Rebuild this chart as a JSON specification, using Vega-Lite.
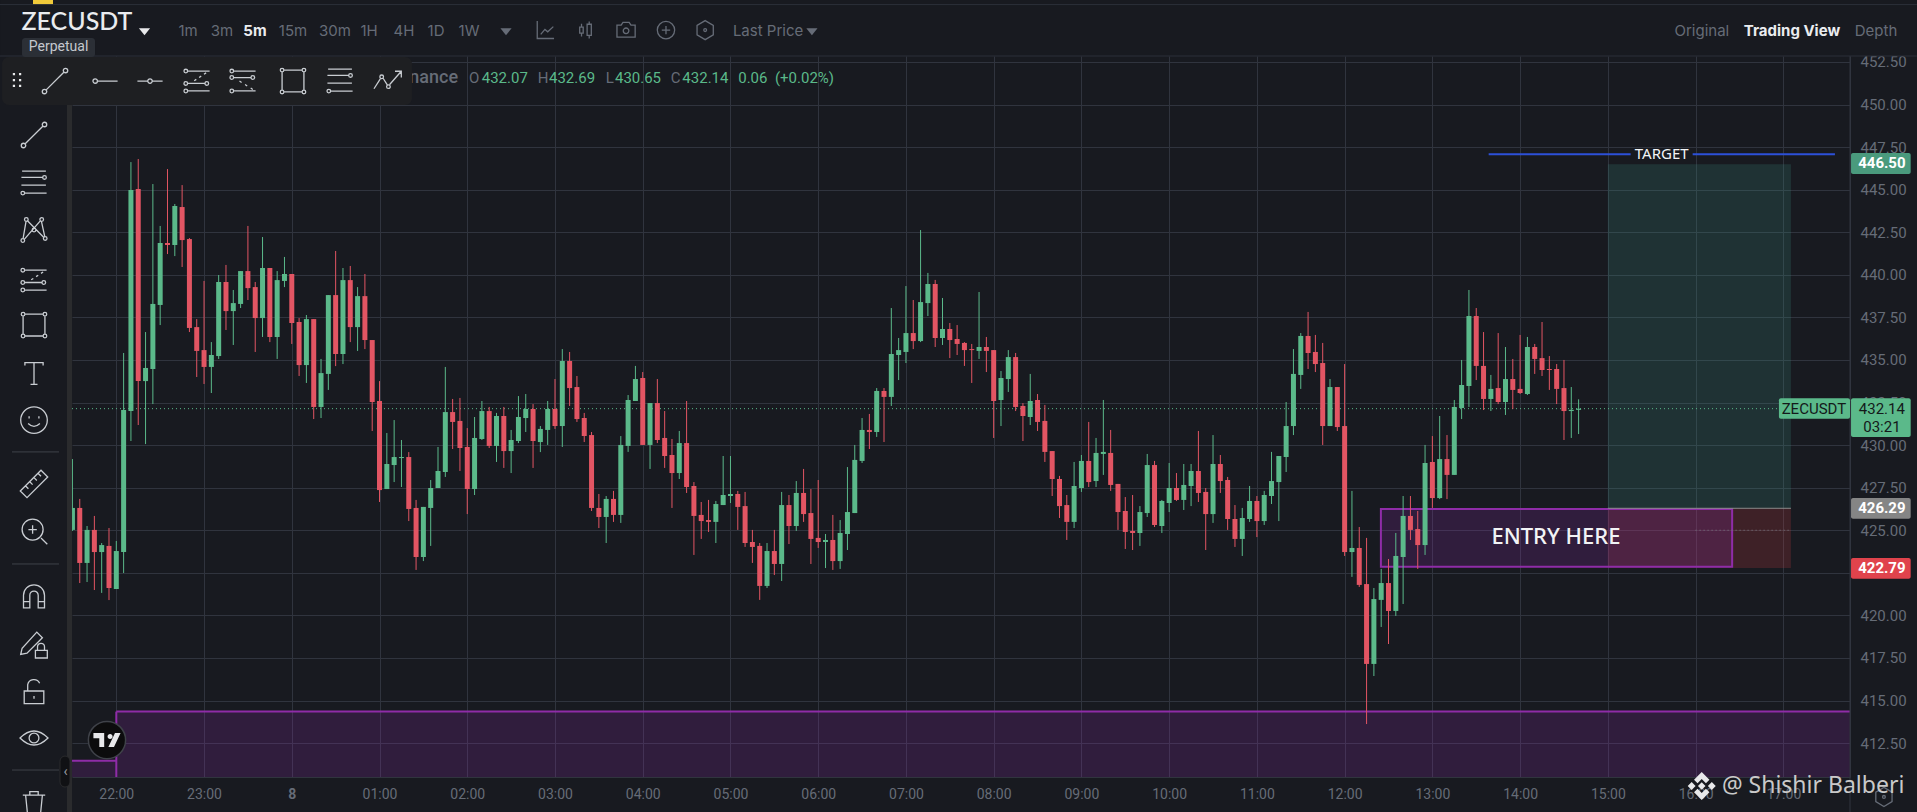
{
  "$schema": "https://vega.github.io/schema/vega-lite/v6.json",
  "description": "ZECUSDT 5m candles with trade drawings on a dark trading screen",
  "background": "#181a20",
  "autosize": {"type": "none"},
  "padding": {"left": 72, "top": 56, "right": 67, "bottom": 35},
  "width": 1778,
  "height": 721,
  "config": {"view": {"stroke": null}, "font": "Roboto"},
  "resolve": {"scale": {"shape": "independent"}},
  "datasets": {
    "candles": [
      {"t":"2025-11-07T21:30","o":425.02,"h":429.18,"l":424.96,"c":426.31},
      {"t":"2025-11-07T21:35","o":426.31,"h":426.84,"l":421.90,"c":423.08},
      {"t":"2025-11-07T21:40","o":423.08,"h":425.25,"l":421.96,"c":425.02},
      {"t":"2025-11-07T21:45","o":425.02,"h":425.84,"l":421.49,"c":423.72},
      {"t":"2025-11-07T21:50","o":423.72,"h":424.25,"l":421.32,"c":424.13},
      {"t":"2025-11-07T21:55","o":424.08,"h":425.13,"l":420.90,"c":421.61},
      {"t":"2025-11-07T22:00","o":421.55,"h":424.37,"l":421.55,"c":423.78},
      {"t":"2025-11-07T22:05","o":423.72,"h":435.41,"l":422.49,"c":432.06},
      {"t":"2025-11-07T22:10","o":432.00,"h":446.62,"l":430.24,"c":444.98},
      {"t":"2025-11-07T22:15","o":445.04,"h":446.80,"l":431.18,"c":433.76},
      {"t":"2025-11-07T22:20","o":433.76,"h":436.64,"l":430.06,"c":434.53},
      {"t":"2025-11-07T22:25","o":434.47,"h":445.33,"l":432.41,"c":438.29},
      {"t":"2025-11-07T22:30","o":438.23,"h":442.87,"l":437.05,"c":441.87},
      {"t":"2025-11-07T22:35","o":441.87,"h":446.21,"l":441.22,"c":441.75},
      {"t":"2025-11-07T22:40","o":441.75,"h":444.16,"l":441.10,"c":444.04},
      {"t":"2025-11-07T22:45","o":443.98,"h":445.27,"l":440.46,"c":442.04},
      {"t":"2025-11-07T22:50","o":442.10,"h":442.16,"l":436.64,"c":436.88},
      {"t":"2025-11-07T22:55","o":436.93,"h":437.40,"l":434.00,"c":435.53},
      {"t":"2025-11-07T23:00","o":435.58,"h":439.64,"l":433.59,"c":434.59},
      {"t":"2025-11-07T23:05","o":434.59,"h":436.05,"l":433.06,"c":435.29},
      {"t":"2025-11-07T23:10","o":435.23,"h":439.99,"l":435.06,"c":439.58},
      {"t":"2025-11-07T23:15","o":439.58,"h":440.58,"l":436.76,"c":437.87},
      {"t":"2025-11-07T23:20","o":437.87,"h":439.11,"l":435.88,"c":438.34},
      {"t":"2025-11-07T23:25","o":438.29,"h":440.22,"l":438.05,"c":440.22},
      {"t":"2025-11-07T23:30","o":440.22,"h":442.87,"l":438.52,"c":439.22},
      {"t":"2025-11-07T23:35","o":439.28,"h":439.58,"l":435.47,"c":437.46},
      {"t":"2025-11-07T23:40","o":437.46,"h":442.22,"l":436.35,"c":440.40},
      {"t":"2025-11-07T23:45","o":440.40,"h":440.40,"l":436.05,"c":436.35},
      {"t":"2025-11-07T23:50","o":436.35,"h":440.22,"l":435.06,"c":439.69},
      {"t":"2025-11-07T23:55","o":439.64,"h":441.05,"l":439.28,"c":440.05},
      {"t":"2025-11-08T00:00","o":440.05,"h":440.05,"l":435.94,"c":437.17},
      {"t":"2025-11-08T00:05","o":437.23,"h":437.46,"l":434.06,"c":434.70},
      {"t":"2025-11-08T00:10","o":434.70,"h":437.64,"l":433.65,"c":437.40},
      {"t":"2025-11-08T00:15","o":437.40,"h":437.40,"l":431.53,"c":432.24},
      {"t":"2025-11-08T00:20","o":432.24,"h":435.06,"l":431.59,"c":434.23},
      {"t":"2025-11-08T00:25","o":434.18,"h":438.81,"l":433.24,"c":438.81},
      {"t":"2025-11-08T00:30","o":438.81,"h":441.40,"l":434.64,"c":435.35},
      {"t":"2025-11-08T00:35","o":435.35,"h":440.40,"l":434.76,"c":439.69},
      {"t":"2025-11-08T00:40","o":439.69,"h":440.52,"l":436.05,"c":436.93},
      {"t":"2025-11-08T00:45","o":436.93,"h":439.28,"l":435.53,"c":438.75},
      {"t":"2025-11-08T00:50","o":438.75,"h":440.05,"l":435.64,"c":436.17},
      {"t":"2025-11-08T00:55","o":436.17,"h":436.17,"l":430.83,"c":432.53},
      {"t":"2025-11-08T01:00","o":432.59,"h":433.76,"l":426.66,"c":427.36},
      {"t":"2025-11-08T01:05","o":427.42,"h":430.71,"l":427.42,"c":428.89},
      {"t":"2025-11-08T01:10","o":428.83,"h":431.47,"l":427.83,"c":429.30},
      {"t":"2025-11-08T01:15","o":429.24,"h":430.30,"l":427.54,"c":429.30},
      {"t":"2025-11-08T01:20","o":429.30,"h":429.59,"l":425.54,"c":426.25},
      {"t":"2025-11-08T01:25","o":426.31,"h":426.78,"l":422.67,"c":423.43},
      {"t":"2025-11-08T01:30","o":423.43,"h":426.37,"l":423.19,"c":426.37},
      {"t":"2025-11-08T01:35","o":426.31,"h":427.95,"l":424.08,"c":427.48},
      {"t":"2025-11-08T01:40","o":427.48,"h":429.89,"l":427.48,"c":428.48},
      {"t":"2025-11-08T01:45","o":428.42,"h":434.59,"l":428.13,"c":431.94},
      {"t":"2025-11-08T01:50","o":431.94,"h":432.71,"l":429.77,"c":431.36},
      {"t":"2025-11-08T01:55","o":431.42,"h":432.77,"l":428.48,"c":429.83},
      {"t":"2025-11-08T02:00","o":429.89,"h":431.00,"l":425.95,"c":427.42},
      {"t":"2025-11-08T02:05","o":427.42,"h":431.65,"l":427.07,"c":430.42},
      {"t":"2025-11-08T02:10","o":430.36,"h":432.59,"l":430.30,"c":432.00},
      {"t":"2025-11-08T02:15","o":432.00,"h":432.24,"l":429.83,"c":429.95},
      {"t":"2025-11-08T02:20","o":429.95,"h":431.89,"l":429.01,"c":431.71},
      {"t":"2025-11-08T02:25","o":431.71,"h":432.24,"l":428.66,"c":429.65},
      {"t":"2025-11-08T02:30","o":429.65,"h":430.89,"l":428.36,"c":430.30},
      {"t":"2025-11-08T02:35","o":430.24,"h":432.88,"l":430.12,"c":431.65},
      {"t":"2025-11-08T02:40","o":431.59,"h":433.00,"l":430.77,"c":432.12},
      {"t":"2025-11-08T02:45","o":432.12,"h":432.41,"l":428.66,"c":430.24},
      {"t":"2025-11-08T02:50","o":430.18,"h":431.12,"l":429.59,"c":430.95},
      {"t":"2025-11-08T02:55","o":430.89,"h":432.59,"l":430.01,"c":432.12},
      {"t":"2025-11-08T03:00","o":432.12,"h":433.88,"l":430.95,"c":431.12},
      {"t":"2025-11-08T03:05","o":431.12,"h":435.64,"l":429.89,"c":434.94},
      {"t":"2025-11-08T03:10","o":434.94,"h":435.47,"l":432.30,"c":433.35},
      {"t":"2025-11-08T03:15","o":433.41,"h":434.06,"l":431.36,"c":431.53},
      {"t":"2025-11-08T03:20","o":431.59,"h":431.89,"l":430.18,"c":430.53},
      {"t":"2025-11-08T03:25","o":430.59,"h":430.77,"l":426.13,"c":426.31},
      {"t":"2025-11-08T03:30","o":426.31,"h":427.13,"l":425.13,"c":425.78},
      {"t":"2025-11-08T03:35","o":425.78,"h":427.01,"l":424.25,"c":426.84},
      {"t":"2025-11-08T03:40","o":426.84,"h":427.31,"l":425.49,"c":425.90},
      {"t":"2025-11-08T03:45","o":425.90,"h":430.53,"l":425.43,"c":430.01},
      {"t":"2025-11-08T03:50","o":429.95,"h":432.94,"l":429.60,"c":432.65},
      {"t":"2025-11-08T03:55","o":432.59,"h":434.65,"l":432.59,"c":433.88},
      {"t":"2025-11-08T04:00","o":433.94,"h":434.29,"l":430.01,"c":430.01},
      {"t":"2025-11-08T04:05","o":430.01,"h":432.47,"l":428.60,"c":432.47},
      {"t":"2025-11-08T04:10","o":432.47,"h":433.88,"l":430.12,"c":430.30},
      {"t":"2025-11-08T04:15","o":430.42,"h":432.00,"l":428.66,"c":429.36},
      {"t":"2025-11-08T04:20","o":429.42,"h":430.36,"l":426.31,"c":428.36},
      {"t":"2025-11-08T04:25","o":428.36,"h":430.83,"l":428.01,"c":430.12},
      {"t":"2025-11-08T04:30","o":430.12,"h":432.59,"l":427.19,"c":427.54},
      {"t":"2025-11-08T04:35","o":427.60,"h":427.83,"l":423.55,"c":425.84},
      {"t":"2025-11-08T04:40","o":425.90,"h":426.66,"l":424.49,"c":425.54},
      {"t":"2025-11-08T04:45","o":425.60,"h":426.78,"l":424.90,"c":425.49},
      {"t":"2025-11-08T04:50","o":425.49,"h":426.72,"l":424.25,"c":426.54},
      {"t":"2025-11-08T04:55","o":426.48,"h":429.36,"l":426.48,"c":427.07},
      {"t":"2025-11-08T05:00","o":427.01,"h":429.36,"l":426.60,"c":427.13},
      {"t":"2025-11-08T05:05","o":427.13,"h":427.31,"l":425.02,"c":426.37},
      {"t":"2025-11-08T05:10","o":426.42,"h":427.25,"l":424.02,"c":424.25},
      {"t":"2025-11-08T05:15","o":424.31,"h":425.02,"l":423.08,"c":424.02},
      {"t":"2025-11-08T05:20","o":424.08,"h":424.25,"l":420.91,"c":421.73},
      {"t":"2025-11-08T05:25","o":421.73,"h":424.25,"l":421.61,"c":423.78},
      {"t":"2025-11-08T05:30","o":423.78,"h":425.02,"l":422.37,"c":423.02},
      {"t":"2025-11-08T05:35","o":423.02,"h":427.25,"l":422.02,"c":426.48},
      {"t":"2025-11-08T05:40","o":426.48,"h":427.07,"l":424.19,"c":425.25},
      {"t":"2025-11-08T05:45","o":425.25,"h":427.89,"l":424.96,"c":427.19},
      {"t":"2025-11-08T05:50","o":427.19,"h":428.60,"l":425.49,"c":425.95},
      {"t":"2025-11-08T05:55","o":426.01,"h":427.42,"l":423.02,"c":424.49},
      {"t":"2025-11-08T06:00","o":424.55,"h":427.95,"l":423.96,"c":424.31},
      {"t":"2025-11-08T06:05","o":424.31,"h":424.78,"l":422.78,"c":424.43},
      {"t":"2025-11-08T06:10","o":424.43,"h":425.90,"l":422.67,"c":423.19},
      {"t":"2025-11-08T06:15","o":423.19,"h":425.60,"l":422.73,"c":424.84},
      {"t":"2025-11-08T06:20","o":424.78,"h":428.71,"l":423.84,"c":426.07},
      {"t":"2025-11-08T06:25","o":426.01,"h":430.01,"l":426.01,"c":429.13},
      {"t":"2025-11-08T06:30","o":429.07,"h":431.59,"l":428.95,"c":430.89},
      {"t":"2025-11-08T06:35","o":430.89,"h":431.83,"l":429.77,"c":430.77},
      {"t":"2025-11-08T06:40","o":430.77,"h":433.35,"l":430.48,"c":433.18},
      {"t":"2025-11-08T06:45","o":433.18,"h":433.35,"l":430.18,"c":432.83},
      {"t":"2025-11-08T06:50","o":432.83,"h":438.05,"l":432.30,"c":435.35},
      {"t":"2025-11-08T06:55","o":435.29,"h":436.29,"l":433.82,"c":435.58},
      {"t":"2025-11-08T07:00","o":435.47,"h":439.34,"l":434.82,"c":436.58},
      {"t":"2025-11-08T07:05","o":436.58,"h":438.52,"l":435.64,"c":436.11},
      {"t":"2025-11-08T07:10","o":436.11,"h":442.63,"l":436.05,"c":438.40},
      {"t":"2025-11-08T07:15","o":438.34,"h":440.11,"l":437.58,"c":439.46},
      {"t":"2025-11-08T07:20","o":439.46,"h":439.70,"l":435.76,"c":436.29},
      {"t":"2025-11-08T07:25","o":436.29,"h":438.64,"l":435.88,"c":436.82},
      {"t":"2025-11-08T07:30","o":436.82,"h":437.17,"l":435.11,"c":436.17},
      {"t":"2025-11-08T07:35","o":436.23,"h":437.05,"l":435.29,"c":435.94},
      {"t":"2025-11-08T07:40","o":436.00,"h":436.05,"l":434.65,"c":435.58},
      {"t":"2025-11-08T07:45","o":435.64,"h":435.94,"l":433.65,"c":435.58},
      {"t":"2025-11-08T07:50","o":435.53,"h":438.99,"l":435.06,"c":435.76},
      {"t":"2025-11-08T07:55","o":435.76,"h":436.35,"l":434.29,"c":435.53},
      {"t":"2025-11-08T08:00","o":435.58,"h":435.58,"l":430.42,"c":432.59},
      {"t":"2025-11-08T08:05","o":432.65,"h":434.35,"l":431.12,"c":433.94},
      {"t":"2025-11-08T08:10","o":433.88,"h":435.58,"l":433.12,"c":435.17},
      {"t":"2025-11-08T08:15","o":435.17,"h":435.41,"l":432.00,"c":432.24},
      {"t":"2025-11-08T08:20","o":432.30,"h":432.47,"l":430.24,"c":431.71},
      {"t":"2025-11-08T08:25","o":431.65,"h":434.18,"l":431.18,"c":432.59},
      {"t":"2025-11-08T08:30","o":432.65,"h":433.00,"l":430.83,"c":431.36},
      {"t":"2025-11-08T08:35","o":431.42,"h":432.36,"l":429.01,"c":429.60},
      {"t":"2025-11-08T08:40","o":429.65,"h":429.65,"l":427.01,"c":428.01},
      {"t":"2025-11-08T08:45","o":428.01,"h":428.19,"l":425.72,"c":426.42},
      {"t":"2025-11-08T08:50","o":426.48,"h":427.07,"l":424.43,"c":425.49},
      {"t":"2025-11-08T08:55","o":425.49,"h":429.01,"l":425.13,"c":427.60},
      {"t":"2025-11-08T09:00","o":427.48,"h":429.42,"l":427.25,"c":429.07},
      {"t":"2025-11-08T09:05","o":429.07,"h":431.36,"l":427.54,"c":427.83},
      {"t":"2025-11-08T09:10","o":427.89,"h":430.42,"l":427.54,"c":429.54},
      {"t":"2025-11-08T09:15","o":429.48,"h":432.65,"l":428.25,"c":429.60},
      {"t":"2025-11-08T09:20","o":429.54,"h":430.89,"l":427.31,"c":427.66},
      {"t":"2025-11-08T09:25","o":427.72,"h":427.72,"l":425.02,"c":426.07},
      {"t":"2025-11-08T09:30","o":426.13,"h":426.95,"l":423.90,"c":424.90},
      {"t":"2025-11-08T09:35","o":424.96,"h":427.07,"l":423.84,"c":424.84},
      {"t":"2025-11-08T09:40","o":424.84,"h":426.42,"l":424.08,"c":426.07},
      {"t":"2025-11-08T09:45","o":426.01,"h":429.48,"l":425.78,"c":428.83},
      {"t":"2025-11-08T09:50","o":428.83,"h":429.07,"l":425.19,"c":425.31},
      {"t":"2025-11-08T09:55","o":425.25,"h":426.78,"l":424.84,"c":426.72},
      {"t":"2025-11-08T10:00","o":426.60,"h":428.95,"l":426.07,"c":427.48},
      {"t":"2025-11-08T10:05","o":427.48,"h":428.36,"l":426.72,"c":426.78},
      {"t":"2025-11-08T10:10","o":426.78,"h":428.89,"l":426.19,"c":427.66},
      {"t":"2025-11-08T10:15","o":427.60,"h":428.89,"l":426.42,"c":428.48},
      {"t":"2025-11-08T10:20","o":428.48,"h":430.83,"l":426.66,"c":427.19},
      {"t":"2025-11-08T10:25","o":427.25,"h":427.48,"l":423.84,"c":425.95},
      {"t":"2025-11-08T10:30","o":425.95,"h":430.59,"l":425.43,"c":428.89},
      {"t":"2025-11-08T10:35","o":428.89,"h":429.42,"l":427.19,"c":427.89},
      {"t":"2025-11-08T10:40","o":427.95,"h":428.13,"l":425.02,"c":425.66},
      {"t":"2025-11-08T10:45","o":425.66,"h":426.48,"l":424.02,"c":424.49},
      {"t":"2025-11-08T10:50","o":424.49,"h":426.31,"l":423.49,"c":425.72},
      {"t":"2025-11-08T10:55","o":425.66,"h":427.60,"l":425.49,"c":426.72},
      {"t":"2025-11-08T11:00","o":426.72,"h":427.01,"l":424.60,"c":425.54},
      {"t":"2025-11-08T11:05","o":425.54,"h":427.31,"l":425.31,"c":427.07},
      {"t":"2025-11-08T11:10","o":427.01,"h":429.60,"l":426.54,"c":427.89},
      {"t":"2025-11-08T11:15","o":427.83,"h":429.36,"l":425.54,"c":429.36},
      {"t":"2025-11-08T11:20","o":429.30,"h":432.53,"l":428.42,"c":431.12},
      {"t":"2025-11-08T11:25","o":431.12,"h":435.64,"l":430.59,"c":434.18},
      {"t":"2025-11-08T11:30","o":434.12,"h":436.58,"l":433.30,"c":436.41},
      {"t":"2025-11-08T11:35","o":436.41,"h":437.82,"l":434.47,"c":435.41},
      {"t":"2025-11-08T11:40","o":435.47,"h":436.47,"l":434.29,"c":434.76},
      {"t":"2025-11-08T11:45","o":434.82,"h":436.00,"l":430.01,"c":431.12},
      {"t":"2025-11-08T11:50","o":431.12,"h":433.88,"l":431.12,"c":433.41},
      {"t":"2025-11-08T11:55","o":433.41,"h":433.41,"l":430.83,"c":431.06},
      {"t":"2025-11-08T12:00","o":431.12,"h":434.76,"l":423.49,"c":423.72},
      {"t":"2025-11-08T12:05","o":423.72,"h":427.31,"l":422.26,"c":423.96},
      {"t":"2025-11-08T12:10","o":423.96,"h":425.19,"l":421.67,"c":421.79},
      {"t":"2025-11-08T12:15","o":421.84,"h":424.55,"l":413.62,"c":417.15},
      {"t":"2025-11-08T12:20","o":417.15,"h":421.61,"l":416.44,"c":420.96},
      {"t":"2025-11-08T12:25","o":420.91,"h":422.73,"l":419.32,"c":421.90},
      {"t":"2025-11-08T12:30","o":421.90,"h":423.31,"l":418.32,"c":420.26},
      {"t":"2025-11-08T12:35","o":420.26,"h":424.84,"l":419.97,"c":423.49},
      {"t":"2025-11-08T12:40","o":423.43,"h":427.01,"l":420.67,"c":425.84},
      {"t":"2025-11-08T12:45","o":425.84,"h":427.01,"l":424.43,"c":425.02},
      {"t":"2025-11-08T12:50","o":425.07,"h":426.13,"l":422.73,"c":424.13},
      {"t":"2025-11-08T12:55","o":424.13,"h":430.01,"l":423.55,"c":428.95},
      {"t":"2025-11-08T13:00","o":429.01,"h":430.53,"l":426.31,"c":426.89},
      {"t":"2025-11-08T13:05","o":426.89,"h":431.71,"l":426.83,"c":429.18},
      {"t":"2025-11-08T13:10","o":429.18,"h":430.59,"l":426.83,"c":428.25},
      {"t":"2025-11-08T13:15","o":428.25,"h":432.65,"l":428.25,"c":432.24},
      {"t":"2025-11-08T13:20","o":432.18,"h":435.00,"l":431.53,"c":433.53},
      {"t":"2025-11-08T13:25","o":433.47,"h":439.11,"l":432.24,"c":437.58},
      {"t":"2025-11-08T13:30","o":437.58,"h":438.05,"l":433.82,"c":434.65},
      {"t":"2025-11-08T13:35","o":434.65,"h":436.64,"l":432.06,"c":432.71},
      {"t":"2025-11-08T13:40","o":432.71,"h":434.12,"l":432.00,"c":433.30},
      {"t":"2025-11-08T13:45","o":433.35,"h":436.58,"l":432.41,"c":432.53},
      {"t":"2025-11-08T13:50","o":432.53,"h":435.76,"l":431.77,"c":433.88},
      {"t":"2025-11-08T13:55","o":433.88,"h":435.06,"l":432.12,"c":433.24},
      {"t":"2025-11-08T14:00","o":433.30,"h":436.47,"l":433.00,"c":433.06},
      {"t":"2025-11-08T14:05","o":433.00,"h":436.35,"l":432.94,"c":435.76},
      {"t":"2025-11-08T14:10","o":435.76,"h":435.94,"l":434.18,"c":435.06},
      {"t":"2025-11-08T14:15","o":435.11,"h":437.23,"l":434.06,"c":434.41},
      {"t":"2025-11-08T14:20","o":434.47,"h":435.23,"l":433.24,"c":434.41},
      {"t":"2025-11-08T14:25","o":434.47,"h":434.76,"l":432.41,"c":433.30},
      {"t":"2025-11-08T14:30","o":433.35,"h":435.00,"l":430.30,"c":432.00},
      {"t":"2025-11-08T14:35","o":432.00,"h":433.41,"l":430.42,"c":432.07},
      {"t":"2025-11-08T14:40","o":432.07,"h":432.69,"l":430.65,"c":432.14}
    ],
    "icons": [
      {"t":"2025-11-08T02:53:36","p":454.37,"icon":"chart"},
      {"t":"2025-11-08T03:21:12","p":454.37,"icon":"candle"},
      {"t":"2025-11-08T03:48:36","p":454.37,"icon":"camera"},
      {"t":"2025-11-08T04:15:54","p":454.37,"icon":"plus"},
      {"t":"2025-11-08T04:42:42","p":454.37,"icon":"hex"},
      {"t":"2025-11-07T21:18:05","p":451.38,"icon":"trend"},
      {"t":"2025-11-07T21:52:16","p":451.38,"icon":"ray"},
      {"t":"2025-11-07T22:23:03","p":451.38,"icon":"hline"},
      {"t":"2025-11-07T22:55:11","p":451.38,"icon":"fib1"},
      {"t":"2025-11-07T23:26:38","p":451.38,"icon":"fib2"},
      {"t":"2025-11-08T00:00:50","p":451.38,"icon":"box"},
      {"t":"2025-11-08T00:32:59","p":451.38,"icon":"lines"},
      {"t":"2025-11-08T01:05:48","p":451.38,"icon":"path"},
      {"t":"2025-11-07T21:03:43","p":448.21,"icon":"trend"},
      {"t":"2025-11-07T21:03:43","p":445.39,"icon":"lines"},
      {"t":"2025-11-07T21:03:43","p":442.63,"icon":"xabcd"},
      {"t":"2025-11-07T21:03:43","p":439.69,"icon":"fib1"},
      {"t":"2025-11-07T21:03:43","p":437.05,"icon":"box"},
      {"t":"2025-11-07T21:03:43","p":434.23,"icon":"tee"},
      {"t":"2025-11-07T21:03:43","p":431.47,"icon":"smile"},
      {"t":"2025-11-07T21:03:43","p":427.72,"icon":"ruler"},
      {"t":"2025-11-07T21:03:43","p":424.96,"icon":"glass"},
      {"t":"2025-11-07T21:03:43","p":421.14,"icon":"magnet"},
      {"t":"2025-11-07T21:03:43","p":418.32,"icon":"pencil"},
      {"t":"2025-11-07T21:03:43","p":415.56,"icon":"lock"},
      {"t":"2025-11-07T21:03:43","p":412.80,"icon":"eye"},
      {"t":"2025-11-07T21:03:43","p":409.04,"icon":"trash"},
      {"t":"2025-11-08T18:08:48","p":409.34,"icon":"hex"}
    ],
    "solidIcons": [
      {"t":"2025-11-07T22:19:17","p":454.32,"icon":"caret"},
      {"t":"2025-11-08T02:26:30","p":454.32,"icon":"caretDim"},
      {"t":"2025-11-08T05:55:42","p":454.32,"icon":"caretDim"},
      {"t":"2025-11-07T20:52:06","p":451.44,"icon":"grip"},
      {"t":"2025-11-07T21:53:38","p":412.68,"icon":"logo"},
      {"t":"2025-11-08T16:04:12","p":409.98,"icon":"binance"}
    ],
    "menu": [
      {"t":"2025-11-07T22:49:02","p":454.32,"label":"1m"},
      {"t":"2025-11-07T23:12:17","p":454.32,"label":"3m"},
      {"t":"2025-11-08T00:00:50","p":454.32,"label":"15m"},
      {"t":"2025-11-08T00:29:34","p":454.32,"label":"30m"},
      {"t":"2025-11-08T00:52:50","p":454.32,"label":"1H"},
      {"t":"2025-11-08T01:16:45","p":454.32,"label":"4H"},
      {"t":"2025-11-08T01:38:38","p":454.32,"label":"1D"},
      {"t":"2025-11-08T02:01:12","p":454.32,"label":"1W"},
      {"t":"2025-11-08T05:25:42","p":454.32,"label":"Last Price"},
      {"t":"2025-11-08T16:04:18","p":454.32,"label":"Original"},
      {"t":"2025-11-08T18:03:24","p":454.32,"label":"Depth"}
    ],
    "menuActive": [
      {"t":"2025-11-07T23:34:51","p":454.32,"label":"5m"},
      {"t":"2025-11-08T17:05:54","p":454.32,"label":"Trading View"}
    ],
    "legendGrey": [
      {"t":"2025-11-08T02:01:12","p":451.56,"label":"O"},
      {"t":"2025-11-08T02:48:12","p":451.56,"label":"H"},
      {"t":"2025-11-08T03:34:42","p":451.56,"label":"L"},
      {"t":"2025-11-08T04:19:06","p":451.56,"label":"C"}
    ],
    "legendGreen": [
      {"t":"2025-11-08T02:09:54","p":451.56,"label":"432.07"},
      {"t":"2025-11-08T02:55:54","p":451.56,"label":"432.69"},
      {"t":"2025-11-08T03:41:00","p":451.56,"label":"430.65"},
      {"t":"2025-11-08T04:27:06","p":451.56,"label":"432.14"},
      {"t":"2025-11-08T05:05:18","p":451.56,"label":"0.06"},
      {"t":"2025-11-08T05:30:24","p":451.56,"label":"(+0.02%)"}
    ],
    "priceTags": [
      {"t":"2025-11-08T17:46:18","t2":"2025-11-08T18:27:06","p":447.15,"p2":445.92,"kind":"target"},
      {"t":"2025-11-08T17:46:18","t2":"2025-11-08T18:27:06","p":432.75,"p2":430.48,"kind":"last"},
      {"t":"2025-11-08T16:57:00","t2":"2025-11-08T17:45:36","p":432.75,"p2":431.55,"kind":"last"},
      {"t":"2025-11-08T17:46:18","t2":"2025-11-08T18:27:06","p":426.89,"p2":425.68,"kind":"entry"},
      {"t":"2025-11-08T17:46:18","t2":"2025-11-08T18:27:06","p":423.37,"p2":422.15,"kind":"stop"}
    ],
    "priceTagText": [
      {"t":"2025-11-08T18:07:24","p":446.54,"label":"446.50"},
      {"t":"2025-11-08T18:07:24","p":426.29,"label":"426.29"},
      {"t":"2025-11-08T18:07:24","p":422.79,"label":"422.79"}
    ],
    "lastText": [
      {"t":"2025-11-08T18:07:24","p":432.12,"label":"432.14"},
      {"t":"2025-11-08T18:07:24","p":431.06,"label":"03:21"},
      {"t":"2025-11-08T17:20:54","p":432.14,"label":"ZECUSDT"}
    ]
  },
  "encoding": {
    "x": {
      "field": "t",
      "type": "temporal",
      "title": null,
      "scale": {
        "domain": [
          {"year": 2025, "month": 11, "date": 7, "hours": 21, "minutes": 29, "seconds": 42},
          {"year": 2025, "month": 11, "date": 8, "hours": 17, "minutes": 45, "seconds": 36}
        ],
        "nice": false,
        "padding": 0
      },
      "axis": {
        "orient": "bottom",
        "values": [
          {"year": 2025, "month": 11, "date": 7, "hours": 22},
          {"year": 2025, "month": 11, "date": 7, "hours": 23},
          {"year": 2025, "month": 11, "date": 8, "hours": 0},
          {"year": 2025, "month": 11, "date": 8, "hours": 1},
          {"year": 2025, "month": 11, "date": 8, "hours": 2},
          {"year": 2025, "month": 11, "date": 8, "hours": 3},
          {"year": 2025, "month": 11, "date": 8, "hours": 4},
          {"year": 2025, "month": 11, "date": 8, "hours": 5},
          {"year": 2025, "month": 11, "date": 8, "hours": 6},
          {"year": 2025, "month": 11, "date": 8, "hours": 7},
          {"year": 2025, "month": 11, "date": 8, "hours": 8},
          {"year": 2025, "month": 11, "date": 8, "hours": 9},
          {"year": 2025, "month": 11, "date": 8, "hours": 10},
          {"year": 2025, "month": 11, "date": 8, "hours": 11},
          {"year": 2025, "month": 11, "date": 8, "hours": 12},
          {"year": 2025, "month": 11, "date": 8, "hours": 13},
          {"year": 2025, "month": 11, "date": 8, "hours": 14},
          {"year": 2025, "month": 11, "date": 8, "hours": 15},
          {"year": 2025, "month": 11, "date": 8, "hours": 16},
          {"year": 2025, "month": 11, "date": 8, "hours": 17}
        ],
        "labelExpr": "hours(datum.value) == 0 ? '8' : timeFormat(datum.value, '%H:%M')",
        "labelFontWeight": {"condition": {"test": "hours(datum.value) == 0", "value": "bold"}, "value": "normal"},
        "labelOverlap": false,
        "labelFlush": false,
        "labelColor": "#666c77",
        "labelFontSize": 14,
        "labelPadding": 10,
        "ticks": false,
        "grid": true,
        "gridColor": "#30343e",
        "gridWidth": 1,
        "domainColor": "#30343e"
      }
    },
    "y": {
      "field": "p",
      "type": "quantitative",
      "title": null,
      "scale": {"domain": [410.51, 452.85], "nice": false, "zero": false},
      "axis": {
        "orient": "right",
        "values": [412.5, 415, 417.5, 420, 422.5, 425, 427.5, 430, 432.5, 435, 437.5, 440, 442.5, 445, 447.5, 450, 452.5],
        "format": ".2f",
        "labelColor": "#666c77",
        "labelFontSize": 15,
        "labelPadding": 10,
        "labelOverlap": false,
        "labelFlush": false,
        "ticks": false,
        "grid": true,
        "gridColor": "#30343e",
        "gridWidth": 1,
        "domainColor": "#30343e"
      }
    }
  },
  "layer": [
    {
      "data": {"values": [
        {"t":"2025-11-07T21:29:42","t2":"2025-11-07T22:00","p":411.46,"p2":410.51},
        {"t":"2025-11-07T22:00","t2":"2025-11-08T17:45:36","p":414.35,"p2":410.51}
      ], "format": {"parse": {"t2": "date"}}},
      "mark": {"type": "rect", "fill": "#902eb6", "fillOpacity": 0.2},
      "encoding": {"x2": {"field": "t2"}, "y2": {"field": "p2"}}
    },
    {
      "data": {"values": [
        {"t":"2025-11-07T21:29:42","t2":"2025-11-07T22:00","p":411.46},
        {"t":"2025-11-07T22:00","t2":"2025-11-08T17:45:36","p":414.35}
      ], "format": {"parse": {"t2": "date"}}},
      "mark": {"type": "rule", "color": "#8f2ca8", "strokeWidth": 2},
      "encoding": {"x2": {"field": "t2"}}
    },
    {
      "data": {"values": [{"t":"2025-11-07T22:00","p":414.35,"p2":410.51}]},
      "mark": {"type": "rule", "color": "#8f2ca8", "strokeWidth": 2},
      "encoding": {"y2": {"field": "p2"}}
    },
    {
      "data": {"values": [
        {"t":"2025-11-08T15:00","t2":"2025-11-08T17:05:12","p":446.5,"p2":426.29,"side":"reward"},
        {"t":"2025-11-08T15:00","t2":"2025-11-08T17:05:12","p":426.29,"p2":422.79,"side":"risk"}
      ], "format": {"parse": {"t2": "date"}}},
      "mark": {"type": "rect", "fillOpacity": 0.2},
      "encoding": {
        "x2": {"field": "t2"},
        "y2": {"field": "p2"},
        "fill": {"condition": {"test": "datum.side == 'reward'", "value": "#3b9789"}, "value": "#d64248"}
      }
    },
    {
      "data": {"values": [{"t":"2025-11-08T12:24:48","t2":"2025-11-08T16:25:00","p":426.25,"p2":422.86}], "format": {"parse": {"t2": "date"}}},
      "mark": {"type": "rect", "fill": "#902eb6", "fillOpacity": 0.2, "stroke": "#8f2ca8", "strokeWidth": 2},
      "encoding": {"x2": {"field": "t2"}, "y2": {"field": "p2"}}
    },
    {
      "data": {"values": [{"t":"2025-11-08T15:00","t2":"2025-11-08T17:05:12","p":426.29}], "format": {"parse": {"t2": "date"}}},
      "mark": {"type": "rule", "color": "#8a8a8a", "strokeWidth": 1},
      "encoding": {"x2": {"field": "t2"}}
    },
    {
      "data": {"values": [{"t":"2025-11-08T16:00","t2":"2025-11-08T17:05:12","p":425}], "format": {"parse": {"t2": "date"}}},
      "mark": {"type": "rule", "color": "#77797f", "strokeWidth": 1, "strokeDash": [1, 3]},
      "encoding": {"x2": {"field": "t2"}}
    },
    {
      "data": {"values": [{"t":"2025-11-07T21:29:42","t2":"2025-11-08T16:57:00","p":432.14}], "format": {"parse": {"t2": "date"}}},
      "mark": {"type": "rule", "color": "#5bb98a", "strokeWidth": 1, "strokeDash": [1, 3]},
      "encoding": {"x2": {"field": "t2"}}
    },
    {
      "data": {"name": "candles"},
      "mark": {"type": "rule", "strokeWidth": 1},
      "encoding": {
        "y": {"field": "l", "type": "quantitative", "title": null, "axis": {"orient": "right"}},
        "y2": {"field": "h"},
        "color": {"condition": {"test": "datum.c >= datum.o", "value": "#5bb98a"}, "value": "#e25563"}
      }
    },
    {
      "data": {"name": "candles"},
      "mark": {"type": "bar", "width": 5},
      "encoding": {
        "y": {"field": "o", "type": "quantitative", "title": null, "axis": {"orient": "right"}},
        "y2": {"field": "c"},
        "color": {"condition": {"test": "datum.c >= datum.o", "value": "#5bb98a"}, "value": "#e25563"}
      }
    },
    {
      "data": {"values": [
        {"t":"2025-11-08T13:38:30","t2":"2025-11-08T15:15:36","p":447.08},
        {"t":"2025-11-08T15:58:00","t2":"2025-11-08T17:35:18","p":447.08}
      ], "format": {"parse": {"t2": "date"}}},
      "mark": {"type": "rule", "color": "#2c50d8", "strokeWidth": 2},
      "encoding": {"x2": {"field": "t2"}}
    },
    {
      "data": {"values": [{"t":"2025-11-08T15:36:48","p":447.11,"label":"TARGET"}]},
      "mark": {"type": "text", "color": "#f2f3f5", "fontSize": 15, "font": "Noto Sans", "align": "center", "baseline": "middle"},
      "encoding": {"text": {"field": "label"}}
    },
    {
      "data": {"values": [{"t":"2025-11-08T14:24:30","p":424.59,"label":"ENTRY HERE"}]},
      "mark": {"type": "text", "color": "#f2f3f5", "fontSize": 22, "fontWeight": 500, "font": "Noto Sans", "align": "center", "baseline": "middle"},
      "encoding": {"text": {"field": "label"}}
    },
    {
      "data": {"values": [{"t":"2025-11-08T17:45:36","p":452.85,"p2":408.45}]},
      "mark": {"type": "rule", "color": "#30343e", "strokeWidth": 1},
      "encoding": {"y2": {"field": "p2"}}
    },
    {
      "data": {"name": "priceTags", "format": {"parse": {"t2": "date"}}},
      "mark": {"type": "rect", "cornerRadius": 2},
      "encoding": {
        "x2": {"field": "t2"},
        "y2": {"field": "p2"},
        "fill": {
          "field": "kind",
          "type": "nominal",
          "legend": null,
          "scale": {"domain": ["target", "last", "entry", "stop"], "range": ["#4a9a7d", "#5bb98a", "#858585", "#e0434c"]}
        }
      }
    },
    {
      "data": {"name": "priceTagText"},
      "mark": {"type": "text", "color": "#ffffff", "fontSize": 15, "fontWeight": "bold", "align": "center", "baseline": "middle"},
      "encoding": {"text": {"field": "label"}}
    },
    {
      "data": {"name": "lastText"},
      "mark": {"type": "text", "color": "#14191a", "fontSize": 15, "align": "center", "baseline": "middle"},
      "encoding": {"text": {"field": "label"}}
    },
    {
      "data": {"values": [{"t":"2025-11-08T01:53:42","p":451.56,"label":"Binance"}]},
      "mark": {"type": "text", "color": "#666c77", "fontSize": 18, "fontWeight": 500, "align": "right", "baseline": "middle"},
      "encoding": {"text": {"field": "label"}}
    },
    {
      "data": {"name": "legendGrey"},
      "mark": {"type": "text", "color": "#666c77", "fontSize": 15, "align": "left", "baseline": "middle"},
      "encoding": {"text": {"field": "label"}}
    },
    {
      "data": {"name": "legendGreen"},
      "mark": {"type": "text", "color": "#5bb98a", "fontSize": 15, "align": "left", "baseline": "middle"},
      "encoding": {"text": {"field": "label"}}
    },
    {
      "data": {"values": [{"t":"2025-11-07T20:40:28","t2":"2025-11-08T18:31:24","p":456.14,"p2":452.85}], "format": {"parse": {"t2": "date"}}},
      "mark": {"type": "rect", "fill": "#181a20"},
      "encoding": {"x2": {"field": "t2"}, "y2": {"field": "p2"}}
    },
    {
      "data": {"values": [
        {"t":"2025-11-07T20:40:28","t2":"2025-11-08T18:31:24","p":455.87},
        {"t":"2025-11-07T20:40:28","t2":"2025-11-08T18:31:24","p":452.85}
      ], "format": {"parse": {"t2": "date"}}},
      "mark": {"type": "rule", "color": "#2b2f38", "strokeWidth": 1},
      "encoding": {"x2": {"field": "t2"}}
    },
    {
      "data": {"values": [{"t":"2025-11-07T21:03:02","t2":"2025-11-07T21:16:43","p":456.14,"p2":455.90}], "format": {"parse": {"t2": "date"}}},
      "mark": {"type": "rect", "fill": "#f0c93a"},
      "encoding": {"x2": {"field": "t2"}, "y2": {"field": "p2"}}
    },
    {
      "data": {"values": [{"t":"2025-11-07T21:26:17","t2":"2025-11-07T21:29:43","p":449.97,"p2":408.45}], "format": {"parse": {"t2": "date"}}},
      "mark": {"type": "rect", "fill": "#2a2b2d"},
      "encoding": {"x2": {"field": "t2"}, "y2": {"field": "p2"}}
    },
    {
      "data": {"values": [
        {"t":"2025-11-07T20:48:40","t2":"2025-11-07T21:20:48","p":429.60},
        {"t":"2025-11-07T20:48:40","t2":"2025-11-07T21:20:48","p":423.02},
        {"t":"2025-11-07T20:48:40","t2":"2025-11-07T21:20:48","p":410.92}
      ], "format": {"parse": {"t2": "date"}}},
      "mark": {"type": "rule", "color": "#3f4249", "strokeWidth": 1},
      "encoding": {"x2": {"field": "t2"}}
    },
    {
      "data": {"values": [{"t":"2025-11-07T20:55:10","p":454.84,"label":"ZECUSDT"}]},
      "mark": {"type": "text", "color": "#eaecef", "fontSize": 25, "fontWeight": 500, "font": "Lato", "align": "left", "baseline": "middle"},
      "encoding": {"text": {"field": "label"}}
    },
    {
      "data": {"values": [{"t":"2025-11-07T20:55:31","t2":"2025-11-07T21:45:26","p":453.90,"p2":452.79}], "format": {"parse": {"t2": "date"}}},
      "mark": {"type": "rect", "fill": "#2b2f36", "cornerRadius": 3},
      "encoding": {"x2": {"field": "t2"}, "y2": {"field": "p2"}}
    },
    {
      "data": {"values": [{"t":"2025-11-07T21:20:29","p":453.35,"label":"Perpetual"}]},
      "mark": {"type": "text", "color": "#c5c8ce", "fontSize": 14, "align": "center", "baseline": "middle"},
      "encoding": {"text": {"field": "label"}}
    },
    {
      "data": {"name": "menu"},
      "mark": {"type": "text", "color": "#666c77", "fontSize": 15, "font": "Inter", "align": "center", "baseline": "middle"},
      "encoding": {"text": {"field": "label"}}
    },
    {
      "data": {"name": "menuActive"},
      "mark": {"type": "text", "color": "#eaecef", "fontSize": 15, "fontWeight": "bold", "font": "Inter", "align": "center", "baseline": "middle"},
      "encoding": {"text": {"field": "label"}}
    },
    {
      "data": {"values": [{"t":"2025-11-07T20:41:50","t2":"2025-11-08T01:22:12","p":452.79,"p2":449.97}], "format": {"parse": {"t2": "date"}}},
      "mark": {"type": "rect", "fill": "#1e1f22", "cornerRadius": 7},
      "encoding": {"x2": {"field": "t2"}, "y2": {"field": "p2"}}
    },
    {
      "data": {"values": [{"t":"2025-11-07T21:21:30","t2":"2025-11-07T21:28:20","p":411.74,"p2":409.92}], "format": {"parse": {"t2": "date"}}},
      "mark": {"type": "rect", "fill": "#101114", "stroke": "#2a2b2d", "cornerRadius": 6},
      "encoding": {"x2": {"field": "t2"}, "y2": {"field": "p2"}}
    },
    {
      "data": {"values": [{"t":"2025-11-07T21:25:15","p":410.83,"label":"‹"}]},
      "mark": {"type": "text", "color": "#9a9da3", "fontSize": 14, "align": "center", "baseline": "middle"},
      "encoding": {"text": {"field": "label"}}
    },
    {
      "data": {"values": [{"t":"2025-11-07T21:53:38","p":412.68}]},
      "mark": {"type": "point", "shape": "circle", "size": 1385, "filled": true, "opacity": 1, "color": "#0c0c0d", "stroke": "#3f4249", "strokeWidth": 1.5},
      "encoding": {}
    },
    {
      "data": {"name": "icons"},
      "mark": {"type": "point", "filled": false, "size": 784, "opacity": 1, "strokeWidth": 1.3},
      "encoding": {
        "shape": {
          "field": "icon",
          "type": "nominal",
          "legend": null,
          "scale": {
            "domain": ["chart", "candle", "camera", "plus", "hex", "trend", "ray", "hline", "fib1", "fib2", "box", "lines", "path", "xabcd", "tee", "smile", "ruler", "glass", "magnet", "pencil", "lock", "eye", "trash"],
            "range": [
              "M-.6 -.65V.6H.6M-.35 .3L-.05 -.05L.15 .12L.55 -.25",
              "M-.45 -.22H-.2V.22H-.45ZM-.32 -.45V-.22M-.32 .22V.45M.08 -.42H.38V.38H.08ZM.23 -.62V-.42M.23 .38V.6",
              "M-.65 -.35H-.35L-.22 -.55H.22L.35 -.35H.65V.5H-.65ZM-.2 .05a.2 .2 0 1 0 .4 0a.2 .2 0 1 0 -.4 0",
              "M-.62 0a.62 .62 0 1 0 1.24 0a.62 .62 0 1 0 -1.24 0M-.3 0H.3M0 -.3V.3",
              "M0 -.68L.58 -.34V.34L0 .68L-.58 .34V-.34ZM-.1 0a.1 .1 0 1 0 .2 0a.1 .1 0 1 0 -.2 0",
              "M-.91 .75a.16 .16 0 1 0 .32 0a.16 .16 0 1 0 -.32 0M.59 -.75a.16 .16 0 1 0 .32 0a.16 .16 0 1 0 -.32 0M-.63 .63L.63 -.63",
              "M-.86 0a.16 .16 0 1 0 .32 0a.16 .16 0 1 0 -.32 0M-.54 0H.9",
              "M-.9 0H-.16M.16 0H.9M-.16 0a.16 .16 0 1 0 .32 0a.16 .16 0 1 0 -.32 0",
              "M-.93 -.71a.13 .13 0 1 0 .26 0a.13 .13 0 1 0 -.26 0M-.67 -.71H.9M-.93 .17a.13 .13 0 1 0 .26 0a.13 .13 0 1 0 -.26 0M-.67 .17H.57M.57 .17a.13 .13 0 1 0 .26 0a.13 .13 0 1 0 -.26 0M-.93 .71a.13 .13 0 1 0 .26 0a.13 .13 0 1 0 -.26 0M-.67 .71H.9M-.2 -.02L-.05 -.12M.15 -.25L.3 -.35M.5 -.48L.65 -.58",
              "M-.93 -.71a.13 .13 0 1 0 .26 0a.13 .13 0 1 0 -.26 0M-.67 -.71H.9M-.93 -.25a.13 .13 0 1 0 .26 0a.13 .13 0 1 0 -.26 0M-.67 -.25H.57M.57 -.25a.13 .13 0 1 0 .26 0a.13 .13 0 1 0 -.26 0M-.93 .71a.13 .13 0 1 0 .26 0a.13 .13 0 1 0 -.26 0M-.67 .71H.9M-.25 0L-.1 .1M.15 .25L.3 .35M.55 .5L.7 .6",
              "M-.91 -.78a.13 .13 0 1 0 .26 0a.13 .13 0 1 0 -.26 0M.65 -.78a.13 .13 0 1 0 .26 0a.13 .13 0 1 0 -.26 0M-.91 .78a.13 .13 0 1 0 .26 0a.13 .13 0 1 0 -.26 0M.65 .78a.13 .13 0 1 0 .26 0a.13 .13 0 1 0 -.26 0M-.65 -.78H.65M-.65 .78H.65M-.78 -.65V.65M.78 -.65V.65",
              "M-.85 -.85H.85M-.9 -.4H.62M.62 -.4a.13 .13 0 1 0 .26 0a.13 .13 0 1 0 -.26 0M-.9 .15H.85M-.93 .72a.13 .13 0 1 0 .26 0a.13 .13 0 1 0 -.26 0M-.67 .72H.9",
              "M-1 .55L-.55 -.15M-.35 -.2L-.05 .28M.12 .25L.95 -.7M.5 -.7H.95V-.25M-.58 -.3a.13 .13 0 1 0 .26 0a.13 .13 0 1 0 -.26 0M-.1 .4a.13 .13 0 1 0 .26 0a.13 .13 0 1 0 -.26 0",
              "M-.93 .75a.13 .13 0 1 0 .26 0a.13 .13 0 1 0 -.26 0M-.68 -.75a.13 .13 0 1 0 .26 0a.13 .13 0 1 0 -.26 0M-.13 0a.13 .13 0 1 0 .26 0a.13 .13 0 1 0 -.26 0M.42 -.75a.13 .13 0 1 0 .26 0a.13 .13 0 1 0 -.26 0M.67 .6a.13 .13 0 1 0 .26 0a.13 .13 0 1 0 -.26 0M-.78 .62L-.57 -.62M-.45 -.65L.67 .5M.45 -.65L-.68 .65M.53 -.62L.77 .47",
              "M-.65 -.55V-.75H.65V-.55M0 -.75V.8M-.25 .8H.25",
              "M-.95 0a.95 .95 0 1 0 1.9 0a.95 .95 0 1 0 -1.9 0M-.35 -.28V-.12M.35 -.28V-.12M-.42 .25Q0 .65 .42 .25",
              "M-.98 .5L.5 -.98L.98 -.5L-.5 .98ZM-.6 .15L-.4 .35M-.3 -.15L-.1 .05M0 -.45L.2 -.25M.3 -.75L.5 -.55",
              "M-.85 -.1a.75 .75 0 1 0 1.5 0a.75 .75 0 1 0 -1.5 0M-.4 -.1H.2M-.1 -.4V.2M.5 .5L.95 .95",
              "M-.75 .85V-.05A.75 .75 0 0 1 .75 -.05V.85H.3V-.05A.3 .3 0 0 0 -.3 -.05V.85ZM-.75 .4H-.3M.3 .4H.75",
              "M-.95 .75L-.85 .3L.2 -.85L.6 -.45L-.5 .65ZM.1 .45H.95V1H.1ZM.25 .45V.2A.25 .25 0 0 1 .75 .2V.45",
              "M-.7 0H.7V.9H-.7ZM-.45 0V-.45A.45 .45 0 0 1 .4 -.55M0 .35V.55",
              "M-1 0Q0 -1 1 0Q0 1 -1 0ZM-.35 0a.35 .35 0 1 0 .7 0a.35 .35 0 1 0 -.7 0",
              "M-.8 -.5H.8M-.3 -.5V-.75H.3V-.5M-.6 -.5L-.45 1H.45L.6 -.5"
            ]
          }
        },
        "stroke": {
          "condition": {"test": "indexof(['chart', 'candle', 'camera', 'plus', 'hex'], datum.icon) >= 0", "value": "#666c77"},
          "value": "#c9cdd2"
        }
      }
    },
    {
      "data": {"name": "solidIcons"},
      "mark": {"type": "point", "filled": true, "size": 784, "opacity": 1, "strokeWidth": 0},
      "encoding": {
        "shape": {
          "field": "icon",
          "type": "nominal",
          "legend": null,
          "scale": {
            "domain": ["caret", "caretDim", "grip", "logo", "binance"],
            "range": [
              "M-.4 -.2H.4L0 .3Z",
              "M-.4 -.2H.4L0 .3Z",
              "M-.3 -.5H-.14V-.34H-.3ZM.14 -.5H.3V-.34H.14ZM-.3 -.08H-.14V.08H-.3ZM.14 -.08H.3V.08H.14ZM-.3 .34H-.14V.5H-.3ZM.14 .34H.3V.5H.14Z",
              "M-.97 -.5H-.2V.5H-.55V-.12H-.97ZM.04 -.25a.18 .18 0 1 0 .36 0a.18 .18 0 1 0 -.36 0M.97 -.5L.5 .5H.1L.57 -.5Z",
              "M0 -1L.55 -.45L.3 -.2L0 -.5L-.3 -.2L-.55 -.45ZM0 1L.55 .45L.3 .2L0 .5L-.3 .2L-.55 .45ZM-1 0L-.72 -.28L-.44 0L-.72 .28ZM1 0L.72 -.28L.44 0L.72 .28ZM0 -.27L.27 0L0 .27L-.27 0Z"
            ]
          }
        },
        "color": {
          "condition": {"test": "datum.icon == 'caretDim'", "value": "#666c77"},
          "value": "#e8e9eb"
        }
      }
    },
    {
      "data": {"values": [{"t":"2025-11-08T16:18:00","p":409.98,"label":"@ Shishir Balberi"}]},
      "mark": {"type": "text", "color": "#c9c9c9", "fontSize": 23, "font": "Noto Sans", "align": "left", "baseline": "middle"},
      "encoding": {"text": {"field": "label"}}
    }
  ]
}
